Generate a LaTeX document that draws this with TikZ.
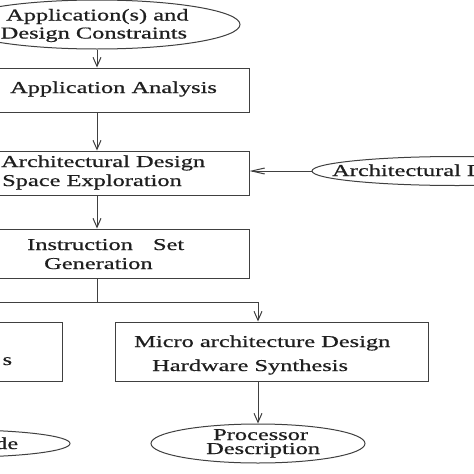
\documentclass[tikz,border=0pt]{standalone}
\usepackage{fontspec}
\setmainfont{Liberation Serif}[FakeBold=0.6]
\usetikzlibrary{arrows.meta,shapes.geometric}
\newcommand{\wtxt}[1]{\scalebox{1.47}[1]{#1}}
\begin{document}
\begin{tikzpicture}[x=1pt,y=-1pt,
  ln/.style={draw=black!75,line width=1pt},
  boxn/.style={ln,rectangle,inner sep=0pt},
  elln/.style={ln,ellipse,inner sep=0pt},
  txt/.style={inner sep=0pt,anchor=base west,font=\fontsize{16.6}{18}\selectfont,text=black!88},
  arr/.style={ln,-{Straight Barb[length=9pt,width=8pt]}},
  arrl/.style={ln,-{Straight Barb[length=13pt,width=6pt]}}]
\useasboundingbox (0,0) rectangle (474,474);
\clip (0,0) rectangle (474,474);
\fill[white] (0,0) rectangle (474,474);
% shapes
\node[elln,minimum width=286pt,minimum height=49pt] (adc) at (97,24.5) {};
\node[boxn,minimum width=304pt,minimum height=44pt] (aa) at (97,90) {};
\node[boxn,minimum width=304pt,minimum height=44pt] (ads) at (97,173) {};
\node[elln,minimum width=290pt,minimum height=29pt] (alib) at (457,171) {};
\node[boxn,minimum width=304pt,minimum height=49pt] (isg) at (97,253.5) {};
\node[boxn,minimum width=200pt,minimum height=59pt] (lbox) at (-38,351.5) {};
\node[boxn,minimum width=313pt,minimum height=59pt] (rbox) at (271.5,351.5) {};
\node[elln,minimum width=214pt,minimum height=27pt] (obj) at (-37,443.5) {};
\node[elln,minimum width=214pt,minimum height=39pt] (proc) at (258,443.5) {};
% connectors
\draw[arr] (adc.south) -- (aa.north);
\draw[arr] (aa.south) -- (ads.north);
\draw[arr] (ads.south) -- (isg.north);
\draw[arrl] (alib.west) -- (alib.west -| ads.east);
\coordinate (split) at (97,302);
\draw[ln] (isg.south) -- (split);
\draw[arr] (split) -| (proc.north |- rbox.north);
\draw[arr] (split) -| (lbox.north);
\draw[arr] (rbox.south -| proc.north) -- (proc.north);
\draw[arr] (lbox.south) -- (obj.north);
% texts
\node[txt] (t1) at (6,20.5) {\wtxt{Application(s) and}};
\node[txt] (t2) at (0.5,38.5) {\wtxt{Design Constraints}};
\node[txt] (t3) at (10,93) {\wtxt{Application Analysis}};
\node[txt] (t4) at (1,167) {\wtxt{Architectural Design}};
\node[txt] (t5) at (2,186) {\wtxt{Space Exploration}};
\node[txt] (t6) at (332,176) {\wtxt{Architectural D}};
\node[txt] (t7) at (27,250) {\wtxt{Instruction \hspace{9.5pt}Set}};
\node[txt] (t8) at (44,269) {\wtxt{Generation}};
\node[txt] (t9) at (2.4,365) {\wtxt{s}};
\node[txt] (t10) at (134,347) {\wtxt{Micro architecture Design}};
\node[txt] (t11) at (152,371) {\wtxt{Hardware Synthesis}};
\node[txt] (t12) at (213,440) {\wtxt{Processor}};
\node[txt] (t13) at (206,454) {\wtxt{Description}};
\node[txt] (t14) at (-5,449) {\wtxt{de}};
\end{tikzpicture}
\end{document}
